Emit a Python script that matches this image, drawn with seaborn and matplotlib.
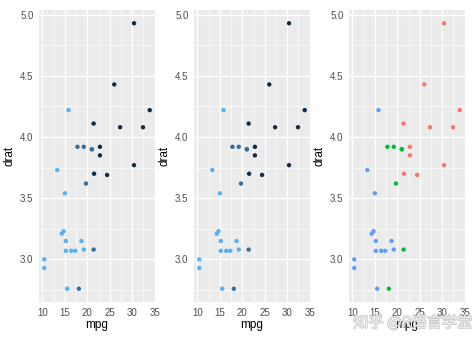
import matplotlib
matplotlib.use("Agg")
import matplotlib.pyplot as plt
import matplotlib.patheffects as pe
from matplotlib.colors import LinearSegmentedColormap
from matplotlib.ticker import MultipleLocator, FormatStrFormatter
import seaborn as sns
import pandas as pd

# mtcars: mpg, cyl, drat
mpg = [21.0, 21.0, 22.8, 21.4, 18.7, 18.1, 14.3, 24.4, 22.8, 19.2, 17.8, 16.4,
       17.3, 15.2, 10.4, 10.4, 14.7, 32.4, 30.4, 33.9, 21.5, 15.5, 15.2, 13.3,
       19.2, 27.3, 26.0, 30.4, 15.8, 19.7, 15.0, 21.4]
cyl = [6, 6, 4, 6, 8, 6, 8, 4, 4, 6, 6, 8, 8, 8, 8, 8, 8, 4, 4, 4, 4, 8, 8, 8,
       8, 4, 4, 4, 8, 6, 8, 4]
drat = [3.90, 3.90, 3.85, 3.08, 3.15, 2.76, 3.21, 3.69, 3.92, 3.92, 3.92, 3.07,
        3.07, 3.07, 2.93, 3.00, 3.23, 4.08, 4.93, 4.22, 3.70, 2.76, 3.15, 3.73,
        3.08, 4.08, 4.43, 3.77, 4.22, 3.62, 3.54, 4.11]

df = pd.DataFrame({"mpg": mpg, "cyl": cyl, "drat": drat})
df["cyl_f"] = df["cyl"].astype(str)

grad = LinearSegmentedColormap.from_list("ggblue", ["#132B43", "#56B1F7"])
disc = {"4": "#F8766D", "6": "#00BA38", "8": "#619CFF"}

sns.set_theme(style="darkgrid")
plt.rcParams["font.family"] = ["Liberation Sans", "DejaVu Sans"]

fig = plt.figure(figsize=(4.74, 3.38), dpi=100)
lefts = [39 / 474, 194 / 474, 349 / 474]
w = 116 / 474
bottom = 1 - 302 / 338
h = (302 - 10) / 338

xlo, xhi = min(mpg), max(mpg)
ylo, yhi = min(drat), max(drat)
xpad = (xhi - xlo) * 0.05
ypad = (yhi - ylo) * 0.05

for i, left in enumerate(lefts):
    ax = fig.add_axes([left, bottom, w, h])
    ax.set_facecolor("#EBEBEB")
    if i < 2:
        sns.scatterplot(data=df, x="mpg", y="drat", hue="cyl", palette=grad,
                        hue_norm=(4, 8), s=10, linewidth=0, legend=False, ax=ax,
                        zorder=3)
    else:
        sns.scatterplot(data=df, x="mpg", y="drat", hue="cyl_f", palette=disc,
                        s=10, linewidth=0, legend=False, ax=ax, zorder=3)
    ax.set_xlim(xlo - xpad, xhi + xpad)
    ax.set_ylim(ylo - ypad, yhi + ypad)
    ax.xaxis.set_major_locator(MultipleLocator(5))
    ax.xaxis.set_minor_locator(MultipleLocator(2.5))
    ax.yaxis.set_major_locator(MultipleLocator(0.5))
    ax.yaxis.set_minor_locator(MultipleLocator(0.25))
    ax.grid(which="major", color="white", linewidth=0.9)
    ax.grid(which="minor", color="white", linewidth=0.45)
    ax.set_axisbelow(True)
    for s in ax.spines.values():
        s.set_visible(False)
    ax.tick_params(axis="both", which="major", length=2.5, width=0.6,
                   color="#333333", labelsize=7, labelcolor="#4D4D4D", pad=1.5)
    ax.tick_params(axis="both", which="minor", length=0)
    ax.yaxis.set_major_formatter(FormatStrFormatter("%.1f"))
    ax.set_xlabel("mpg", fontsize=8.5, color="black", labelpad=1)
    ax.set_ylabel("drat", fontsize=8.5, color="black", labelpad=3)

wm = fig.text(0.745, 0.045, "知乎 @R语言学堂", fontsize=11, color="white",
              alpha=0.7, family=["Noto Sans CJK SC", "DejaVu Sans"],
              ha="left", va="center", zorder=0)
wm.set_path_effects([pe.withStroke(linewidth=1.0, foreground="#B0B0B0")])

fig.savefig("out.png", dpi=100, facecolor="white")
